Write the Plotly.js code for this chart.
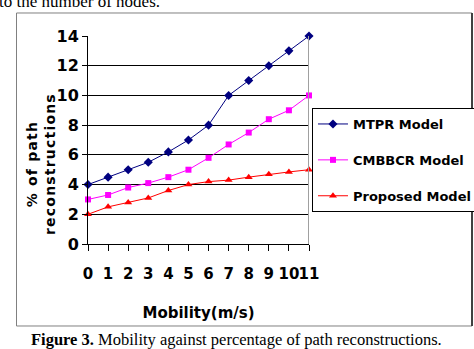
<!DOCTYPE html>
<html>
<head>
<meta charset="utf-8">
<script src="https://cdn.plot.ly/plotly-3.0.1.min.js"></script>
<style>
html,body{margin:0;padding:0;background:#fff;}
#chart{width:474px;height:349px;}
.annotation[data-index="0"] text{letter-spacing:1.2px;}
</style>
</head>
<body>
<div id="chart"></div>
<script>
var mobility = [0,1,2,3,4,5,6,7,8,9,10,11];
var mtpr = [4,4.5,5,5.5,6.2,7,8,10,11,12,13,14];
var cmbbcr = [3,3.3,3.8,4.1,4.5,5,5.8,6.7,7.5,8.4,9,10];
var proposed = [2,2.5,2.8,3.1,3.6,4,4.2,4.3,4.5,4.7,4.85,5];
var seriesNames = ['MTPR Model','CMBBCR Model','Proposed Model'];
var yTickVals = [0,2,4,6,8,10,12,14];

var bold = {family:'DejaVu Sans', size:14, color:'#000', weight:'bold'};

var traces = [
  {x:mobility, y:mtpr, name:seriesNames[0], legendgroup:'a', mode:'lines+markers', cliponaxis:false,
   line:{color:'#000080', width:1}, marker:{symbol:'diamond', size:7, color:'#000080'}},
  {x:mobility, y:cmbbcr, name:seriesNames[1], legendgroup:'b', mode:'lines+markers', cliponaxis:false,
   line:{color:'#ff00ff', width:1}, marker:{symbol:'square', size:6, color:'#ff00ff'}},
  {x:mobility, y:proposed, name:seriesNames[2], legendgroup:'c', mode:'lines+markers', cliponaxis:false,
   line:{color:'#ff0000', width:1}, marker:{symbol:'triangle-up', size:7, color:'#ff0000'}}
];

var layout = {
  width:474, height:349,
  margin:{l:88, r:165, t:36, b:105, autoexpand:false},
  paper_bgcolor:'#fff', plot_bgcolor:'#fff',
  showlegend:true,
  xaxis:{range:[0,11], tickvals:mobility, ticktext:mobility.map(String), tickangle:0, automargin:false,
    showgrid:false, zeroline:false, showline:true, linecolor:'#000', linewidth:1,
    ticks:'outside', ticklen:6, tickcolor:'#000', ticklabelstandoff:10,
    tickfont:{family:'DejaVu Sans', size:15, color:'#000', weight:'bold'},
    title:{text:'Mobility(m/s)', font:{family:'DejaVu Sans', size:15, color:'#000', weight:'bold'}, standoff:25}},
  yaxis:{range:[0,14], tickvals:yTickVals, automargin:false,
    showgrid:true, gridcolor:'#000', gridwidth:1, zeroline:false, showline:true, linecolor:'#000', linewidth:1,
    ticks:'outside', ticklen:5, tickcolor:'#000',
    tickfont:{family:'DejaVu Sans', size:16, color:'#000', weight:'bold'}},
  legend:{xref:'container', yref:'container', x:0.6582, y:0.6905, xanchor:'left', yanchor:'top',
    bordercolor:'#000', borderwidth:1,
    bgcolor:'#fff', font:{family:'DejaVu Sans', size:13, color:'#000', weight:'bold'},
    traceorder:'grouped', tracegroupgap:16, itemwidth:30},
  shapes:[
    {type:'rect', xref:'paper', yref:'paper', x0:-0.3235, x1:1.7376, y0:-0.3942, y1:1.1106,
     line:{color:'#808080', width:1}},
    {type:'line', xref:'paper', yref:'paper', x0:1.7376, x1:1.7376, y0:-0.3942, y1:1.1106,
     line:{color:'#404040', width:2}},
    {type:'line', xref:'x', yref:'y', x0:11, x1:11, y0:0, y1:14, line:{color:'#a0a0a0', width:2}}
  ],
  annotations:[
    {xref:'paper', yref:'paper', x:-0.215, y:0.387, xanchor:'center', yanchor:'middle', textangle:-90,
     showarrow:false, align:'center', text:'% of path<br>reconstructions', font:bold},
    {xref:'paper', yref:'paper', x:-0.41, y:1.168, xanchor:'left', yanchor:'middle', showarrow:false,
     text:'to the number of nodes.', font:{family:'Liberation Serif', size:17, color:'#000'}},
    {xref:'paper', yref:'paper', x:-0.267, y:-0.46, xanchor:'left', yanchor:'middle', showarrow:false,
     text:'<b>Figure 3.</b> Mobility against percentage of path reconstructions.',
     font:{family:'Liberation Serif', size:16.5, color:'#000'}}
  ]
};

Plotly.newPlot('chart', traces, layout, {displayModeBar:false, staticPlot:true});
</script>
</body>
</html>
